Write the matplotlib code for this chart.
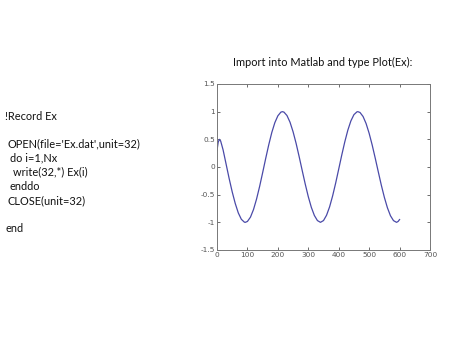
import matplotlib
matplotlib.use("Agg")
import matplotlib.pyplot as plt

# Ex values (index vs field)
x_vals = [0, 4, 8, 12, 20, 30, 40, 50, 60, 70, 80, 90, 93,
          100, 110, 120, 130, 140, 150, 160, 170, 180, 190, 200, 210, 215,
          220, 230, 240, 250, 260, 270, 280, 290, 300, 310, 320, 330, 340,
          350, 360, 370, 380, 390, 400, 410, 420, 430, 440, 450, 460, 463,
          470, 480, 490, 500, 510, 520, 530, 540, 550, 560, 570, 580, 590, 595, 600]
ex_vals = [0.30, 0.45, 0.50, 0.47, 0.31, 0.05, -0.21, -0.45, -0.66, -0.83, -0.945, -0.997, -1.0,
           -0.984, -0.906, -0.768, -0.579, -0.353, -0.103, 0.154, 0.400, 0.622, 0.800, 0.925, 0.992, 1.0,
           0.992, 0.930, 0.809, 0.637, 0.426, 0.187, -0.063, -0.309, -0.536, -0.729, -0.876, -0.968, -1.0,
           -0.968, -0.872, -0.721, -0.522, -0.290, -0.038, 0.216, 0.455, 0.666, 0.833, 0.946, 0.997, 1.0,
           0.985, 0.913, 0.785, 0.609, 0.397, 0.160, -0.086, -0.328, -0.548, -0.736, -0.880, -0.969, -1.0, -0.985, -0.95]

x_ticks = [0, 100, 200, 300, 400, 500, 600, 700]
y_ticks = [-1.5, -1, -0.5, 0, 0.5, 1, 1.5]
y_tick_labels = ["-1.5", "-1", "-0.5", "0", "0.5", "1", "1.5"]

code_lines = [
    ("!Record Ex", 5, 117),
    ("OPEN(file='Ex.dat',unit=32)", 7, 144),
    ("do i=1,Nx", 10, 158),
    ("write(32,*) Ex(i)", 13, 172),
    ("enddo", 10, 187),
    ("CLOSE(unit=32)", 7, 201),
    ("end", 5, 229),
]

W, H = 474, 355
fig = plt.figure(figsize=(W / 100, H / 100), dpi=100)
fig.patch.set_facecolor("white")

ax = fig.add_axes([217 / W, 1 - 250 / H, (430 - 217) / W, (250 - 84) / H])
ax.plot(x_vals, ex_vals, color="#4a4aa8", lw=0.9)
ax.set_xlim(0, 700)
ax.set_ylim(-1.5, 1.5)
ax.set_xticks(x_ticks)
ax.set_yticks(y_ticks)
ax.set_yticklabels(y_tick_labels)
ax.tick_params(direction="in", length=2.5, width=0.6, labelsize=5.3, colors="#555555",
               top=True, right=True, pad=1.5)
for sp in ax.spines.values():
    sp.set_color("#777777")
    sp.set_linewidth(0.7)

fig.text(323 / W, 1 - 62 / H, "Import into Matlab and type Plot(Ex):",
         ha="center", va="center", fontsize=7.9, family="Lato", color="#111111")

for txt, px, py in code_lines:
    fig.text(px / W, 1 - py / H, txt, ha="left", va="center",
             fontsize=7.9, family="Lato", color="#111111")

fig.savefig("out.png", dpi=100)
